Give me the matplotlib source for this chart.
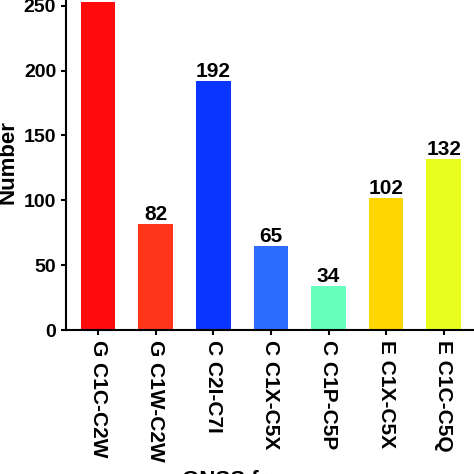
import matplotlib
matplotlib.use("Agg")
import matplotlib.pyplot as plt
plt.rcParams['font.family'] = ['Liberation Sans', 'DejaVu Sans']
plt.rcParams['font.weight'] = 'bold'

categories = ["G C1C-C2W", "G C1W-C2W", "C C2I-C7I", "C C1X-C5X", "C C1P-C5P", "E C1X-C5X", "E C1C-C5Q"]
values = [253, 82, 192, 65, 34, 102, 132]
colors = ["#FF0B0B", "#FF3519", "#0A35FF", "#2E6BFF", "#66FFBB", "#FFD600", "#E8FF1E"]

fig = plt.figure(figsize=(4.74, 4.74), dpi=100)
ax = fig.add_axes([0.139, 0.303, 0.858, 0.71])
x = range(len(categories))
ax.bar(x, values, width=0.6, color=colors)
for xi, v in zip(x, values):
    ax.text(xi, v, str(v), ha="center", va="bottom", fontsize=15, fontweight="bold")
ax.set_xlim(-0.56, 6.5)
ax.set_ylim(0, 259)
ax.set_yticks([0, 50, 100, 150, 200, 250])
ax.set_xticks(list(x))
ax.set_xticklabels(categories, rotation=-90, fontsize=15, fontweight="bold")
for lab in ax.get_yticklabels():
    lab.set_fontweight("bold")
ax.tick_params(axis="y", labelsize=14, width=1.5)
ax.tick_params(axis="x", width=1.5)
for s in ["top", "right"]:
    ax.spines[s].set_visible(False)
for s in ["left", "bottom"]:
    ax.spines[s].set_linewidth(1.5)
ax.set_ylabel("Number", fontsize=16, fontweight="bold")
ax.set_xlabel("GNSS frequency", fontsize=16, fontweight="bold", labelpad=6)
fig.savefig("out.png", dpi=100)
